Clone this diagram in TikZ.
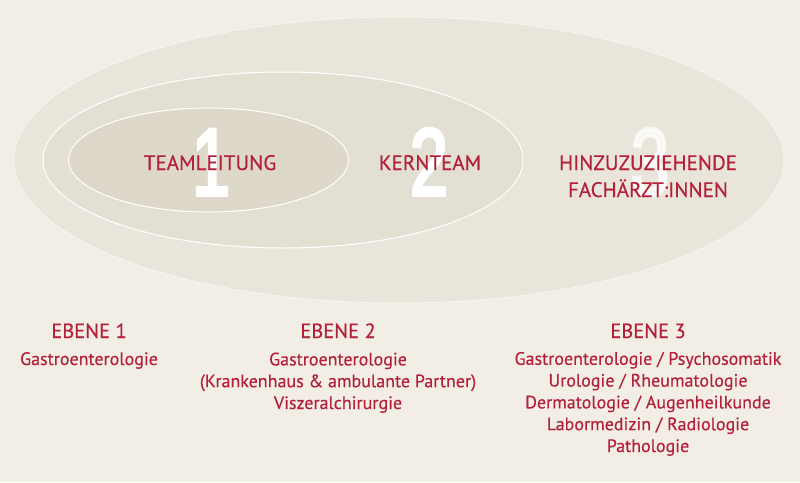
\documentclass[tikz,border=0pt]{standalone}
\usepackage{fontspec}
\setmainfont{PT Sans}
\newfontfamily\medfont[FakeBold=0.3]{PT Sans}
\newfontfamily\numfont[FakeBold=4]{Liberation Sans}
\definecolor{bg}{RGB}{242,238,230}
\definecolor{ell3}{RGB}{234,229,218}
\definecolor{ell2}{RGB}{228,223,211}
\definecolor{ell1}{RGB}{222,216,203}
\definecolor{crim}{RGB}{178,32,58}
\tikzset{
  ring/.style={draw=white, line width=1pt},
  bignum/.style={text=white, font=\numfont\fontsize{95}{95}\selectfont, inner sep=0pt, xscale=0.72},
  lvl/.style={text=crim, font=\medfont\fontsize{21}{27}\selectfont, align=center, inner sep=0pt, anchor=base},
  head/.style={text=crim, font=\medfont\fontsize{20.5}{24}\selectfont, inner sep=0pt, anchor=base},
  body/.style={text=crim, font=\medfont\fontsize{18}{21.8}\selectfont, align=center, inner sep=0pt, anchor=base}
}
\begin{document}
\begin{tikzpicture}[x=1pt,y=-1pt]
\useasboundingbox[fill=bg] (0,0) rectangle (800,482);
\fill[ell3] (399,160) ellipse (385 and 143);
\draw[ring, line width=0.7pt, draw=white!70!ell3] (399,160) ellipse (385 and 143);
\fill[ell2] (283,160) ellipse (240 and 88);
\draw[ring] (283,160) ellipse (240 and 88);
\fill[ell1] (208.5,160) ellipse (140 and 52);
\draw[ring] (208.5,160) ellipse (140 and 52);
\node[bignum, anchor=base] (n1) at (211,195) {1};
\node[bignum, anchor=base] (n2) at (429,195) {2};
\node[bignum, anchor=base, text opacity=0.7] (n3) at (650,195) {3};
\node[lvl] (t1) at (210,170) {TEAMLEITUNG};
\node[lvl] (t2) at (430,170) {KERNTEAM};
\node[lvl] (t3) at (648,197) {HINZUZUZIEHENDE\\FACHÄRZT:INNEN};
\node[head] (e1) at (89,338) {EBENE 1};
\node[head] (e2) at (338,338) {EBENE 2};
\node[head] (e3) at (648,338) {EBENE 3};
\node[body] (b1) at (89,365) {Gastroenterologie};
\node[body] (b2) at (338,409) {Gastroenterologie\\(Krankenhaus \& ambulante Partner)\\Viszeralchirurgie};
\node[body] (b3) at (648,452) {Gastroenterologie / Psychosomatik\\Urologie / Rheumatologie\\Dermatologie / Augenheilkunde\\Labormedizin / Radiologie\\Pathologie};
\end{tikzpicture}
\end{document}
